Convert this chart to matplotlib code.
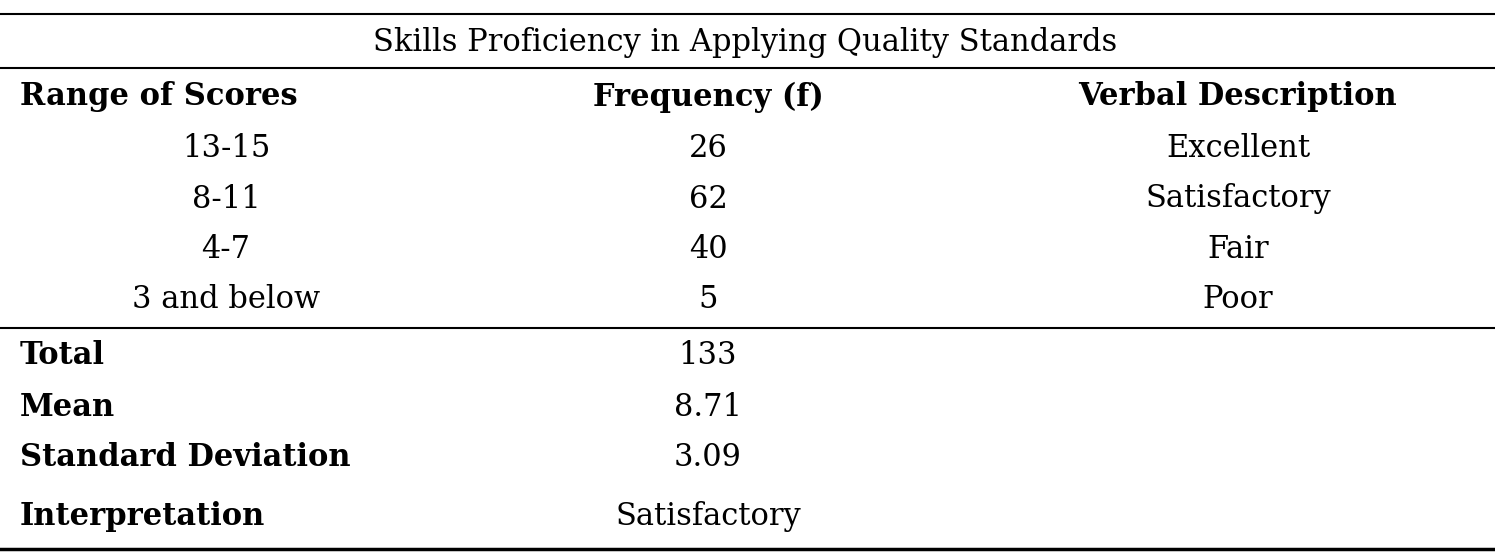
import matplotlib
matplotlib.use("Agg")
import matplotlib.pyplot as plt
from matplotlib.lines import Line2D

title = "Skills Proficiency in Applying Quality Standards"
headers = ["Range of Scores", "Frequency (f)", "Verbal Description"]
ranges = ["13-15", "8-11", "4-7", "3 and below"]
freqs = ["26", "62", "40", "5"]
verbal = ["Excellent", "Satisfactory", "Fair", "Poor"]
summary_labels = ["Total", "Mean", "Standard Deviation", "Interpretation"]
summary_values = ["133", "8.71", "3.09", "Satisfactory"]

W, H = 1495, 553
fig = plt.figure(figsize=(W/100, H/100), dpi=100)
plt.rcParams['font.family'] = ['DejaVu Serif']

def X(px): return px / W
def Y(py): return 1 - py / H

def hline(py, lw):
    fig.add_artist(Line2D([0, 1], [Y(py), Y(py)], color='black', lw=lw, transform=fig.transFigure))

hline(14, 1.5)
hline(68, 1.5)
hline(328, 1.5)
hline(549, 2.5)

fs = 22
kw = dict(va='center', fontsize=fs)
fig.text(X(745), Y(43), title, ha='center', **kw)
fig.text(X(20), Y(97), headers[0], ha='left', fontweight='bold', **kw)
fig.text(X(708), Y(97), headers[1], ha='center', fontweight='bold', **kw)
fig.text(X(1238), Y(97), headers[2], ha='center', fontweight='bold', **kw)

row_y = [149, 199, 249, 300]
for y, r, f, v in zip(row_y, ranges, freqs, verbal):
    fig.text(X(226), Y(y), r, ha='center', **kw)
    fig.text(X(708), Y(y), f, ha='center', **kw)
    fig.text(X(1238), Y(y), v, ha='center', **kw)

sum_y = [356, 407, 458, 516]
for y, l, v in zip(sum_y, summary_labels, summary_values):
    fig.text(X(20), Y(y), l, ha='left', fontweight='bold', **kw)
    fig.text(X(708), Y(y), v, ha='center', **kw)

fig.savefig("out.png", dpi=100)
